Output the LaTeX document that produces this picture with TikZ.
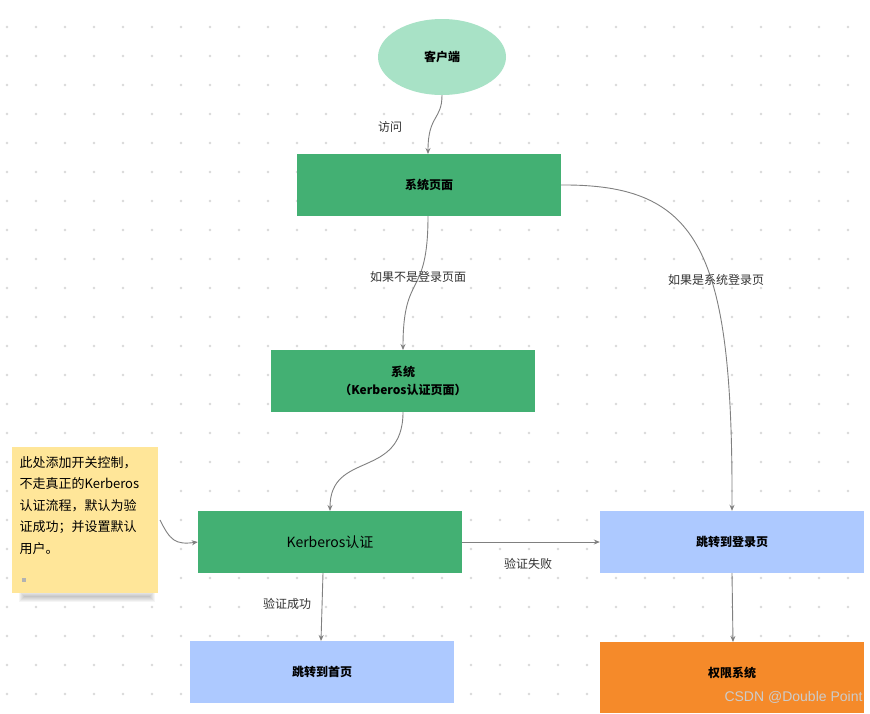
\documentclass[tikz,border=0pt]{standalone}
\usepackage{fontspec}
\setmainfont{Liberation Sans}
\newfontfamily\cjk{Noto Sans CJK SC}
\usetikzlibrary{shapes.geometric,arrows.meta}
\definecolor{ell}{HTML}{A8E2C6}
\definecolor{grn}{HTML}{43B073}
\definecolor{blu}{HTML}{ADC9FF}
\definecolor{org}{HTML}{F58A2A}
\definecolor{stk}{HTML}{FFE699}
\definecolor{ln}{HTML}{808080}
\begin{document}
\begin{tikzpicture}[x=1pt,y=-1pt,
 box/.style={draw=none,minimum width=264pt,minimum height=62pt,font=\cjk\fontsize{12}{14}\selectfont,align=center},
 lbl/.style={font=\cjk\fontsize{12}{14}\selectfont,text=black!80},
 arr/.style={draw=ln,line width=0.9pt,-{Stealth[length=6pt,width=5pt]}}]
\useasboundingbox (0,0) rectangle (870,713);
\fill[white] (0,0) rectangle (870,713);
\foreach \i in {0,...,30}{\foreach \j in {0,...,24}{\fill[black!15] (7+29*\i,27+29*\j) circle (1.3pt);}}
\node[ellipse,fill=ell,minimum width=128pt,minimum height=76pt,font=\cjk\bfseries\fontsize{12}{14}\selectfont] (c) at (442,57) {客户端};
\node[box,fill=grn,font=\cjk\bfseries\fontsize{12}{14}\selectfont] (s) at (429,185) {系统页面};
\node[box,fill=grn,font=\cjk\bfseries\fontsize{12}{18}\selectfont] (k) at (403,381) {系统\\（Kerberos认证页面）};
\node[box,fill=grn,font=\cjk\fontsize{14}{16}\selectfont] (ka) at (330,542) {Kerberos认证};
\node[box,fill=blu,font=\cjk\bfseries\fontsize{12}{14}\selectfont] (lp) at (732,542) {跳转到登录页};
\node[box,fill=blu,font=\cjk\bfseries\fontsize{12}{14}\selectfont] (hp) at (322,672) {跳转到首页};
\fill[org] (600,642) rectangle (864,713);
\node[font=\cjk\bfseries\fontsize{12}{14}\selectfont,minimum width=264pt,minimum height=62pt] (ps) at (732,673) {权限系统};
\foreach \k in {1,...,6}{\fill[black,opacity=0.04] (18+\k,590+\k) rectangle (156-\k,603-\k);}
\fill[stk] (12,447) rectangle (158,593);
\node[anchor=north west,align=left,font=\cjk\fontsize{13}{21.5}\selectfont,text width=140pt] (note) at (16,453) {此处添加开关控制，\\不走真正的Kerberos\\认证流程，默认为验\\证成功；并设置默认\\用户。};
\coordinate (nr) at (160,520);
\fill[black!30] (22,578) rectangle (26,582);
\draw[arr] (c.south) .. controls (442,120) and (428,115) .. (428,154);
\draw[arr] (428,216) .. controls (428,300) and (403,270) .. (403,350);
\draw[arr] (s.east) .. controls (700,184) and (733,250) .. (lp.north);
\draw[arr] (403,412) .. controls (403,480) and (330,450) .. (330,511);
\draw[arr] (ka.east) -- (lp.west);
\draw[arr] (323,573) -- (321,641);
\draw[arr] (lp.south) -- (733,642);
\draw[arr] (nr) .. controls (170,540) and (175,545) .. (ka.west);
\node[lbl] at (390,127) {访问};
\node[lbl] at (418,277) {如果不是登录页面};
\node[lbl] at (716,280) {如果是系统登录页};
\node[lbl] at (528,564) {验证失败};
\node[lbl] at (287,604) {验证成功};
\node[font=\fontsize{14}{16}\selectfont,text=white!80!black,anchor=east] at (866,697) {CSDN @Double Point};
\end{tikzpicture}
\end{document}
